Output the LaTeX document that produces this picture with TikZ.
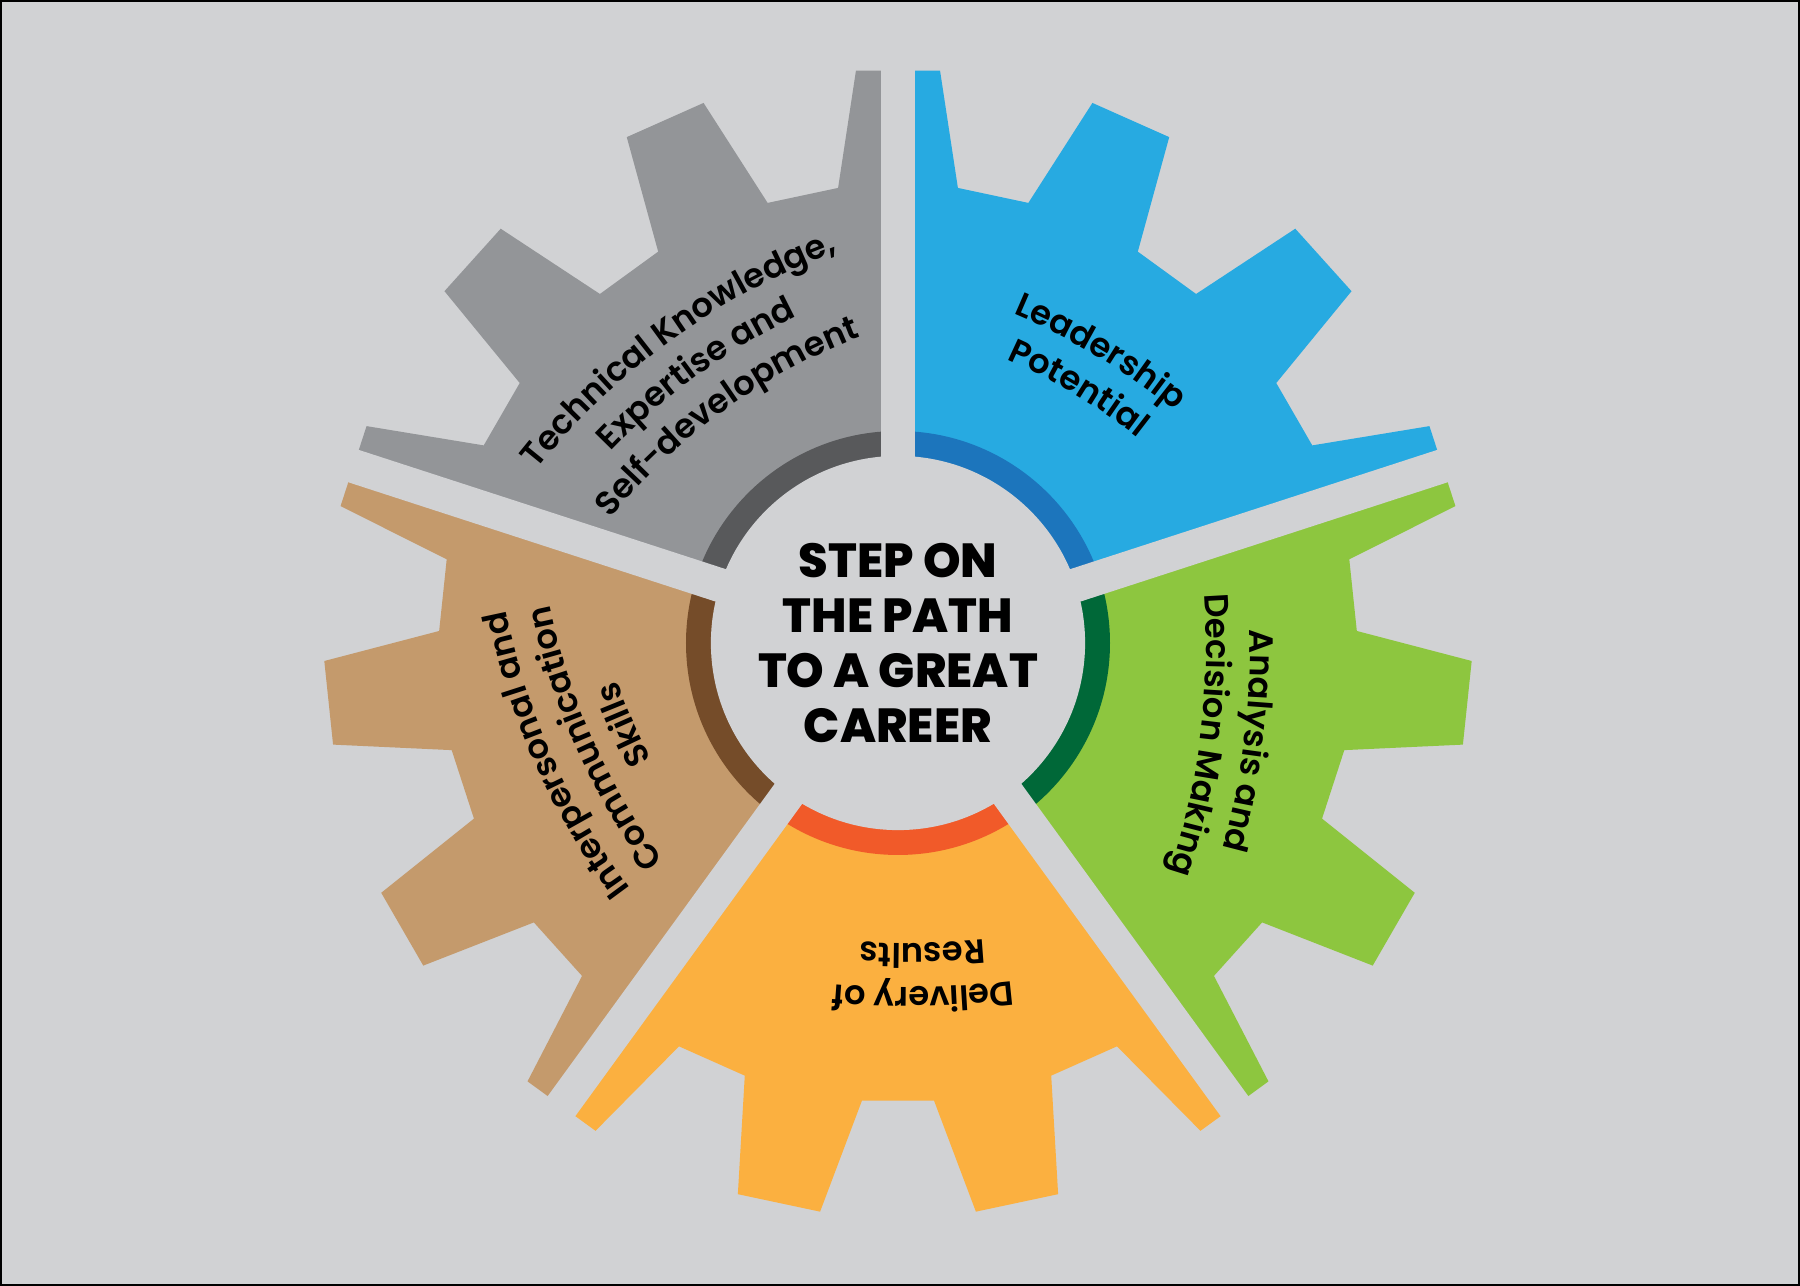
\documentclass[tikz,border=0pt]{standalone}
\usepackage{fontspec}
\setmainfont{Poppins}
\newfontfamily\hubfont{Poppins ExtraBold}
\newfontfamily\lblfont{Poppins SemiBold}
\usetikzlibrary{calc,decorations.text}
\definecolor{cgbg}{RGB}{209,210,212}
\definecolor{cggray}{RGB}{147,149,152}
\definecolor{cggrayd}{RGB}{88,89,91}
\definecolor{cgblue}{RGB}{39,170,225}
\definecolor{cgblued}{RGB}{28,117,188}
\definecolor{cggreen}{RGB}{141,198,63}
\definecolor{cggreend}{RGB}{0,104,56}
\definecolor{cgorange}{RGB}{251,176,64}
\definecolor{cgoranged}{RGB}{241,90,41}
\definecolor{cgbrown}{RGB}{196,154,108}
\definecolor{cgbrownd}{RGB}{117,76,41}
\tikzset{
  hub/.style={
    circle, fill=cgbg, minimum size=3.74cm, inner sep=0pt,
    align=center, font=\hubfont\fontsize{13.6}{15.6}\selectfont
  },
  gapline/.style={draw=cgbg, line width=0.34cm},
  frame/.style={draw=black, line width=1.4pt}
}
% outline of the 15-tooth gear, centre at the origin
\def\cgteeth{(82.5:459) \foreach \c in {90,114,...,426} {
  -- (\c-7.5:459) -- (\c-4.2:574) -- (\c+4.2:574) -- (\c+7.5:459)} -- cycle}
% one line of a label, bent round a centre: centre, radius, upward angle, text
\newcommand{\arcline}[4]{%
  \path[decorate, decoration={text along path, text align=center,
      text={|\lblfont\fontsize{9.6}{11}\selectfont|#4}}]
    ($(#1)+(#3+35:#2)$) arc[start angle=#3+35, end angle=#3-35, radius=#2];
}

\begin{document}
\begin{tikzpicture}[x=0.01cm,y=0.01cm]
  \useasboundingbox (-898,-643) rectangle (902,643);
  \fill[cgbg] (-898,-643) rectangle (902,643);
  \draw[frame] (-898,-643) rectangle (902,643);

  % the five sectors
  \foreach \a/\fc/\dc in {90/cggray/cggrayd, 18/cgblue/cgblued,
      -54/cggreen/cggreend, -126/cgorange/cgoranged, -198/cgbrown/cgbrownd} {
    \begin{scope}
      \clip (0,0) -- (\a:800) -- (\a+36:800) -- (\a+72:800) -- cycle;
      \fill[\fc] \cgteeth;
      \fill[\dc] (0,0) circle[radius=212];
    \end{scope}
  }
  \foreach \g in {90,18,-54,-126,162}
    \draw[gapline] (0,0) -- (\g:640);

  \node[hub] (hub) at (0,0) {STEP ON\\THE PATH\\TO A GREAT\\CAREER};

  % labels
  \coordinate (cT) at ($(126.8:344)-(126:650)$);
  \arcline{cT}{684}{126}{Technical Knowledge,}
  \arcline{cT}{640}{126}{Expertise and}
  \arcline{cT}{596}{126}{Self-development}

  \coordinate (cL) at ($(55:337)-(59:650)$);
  \arcline{cL}{662}{59}{Leadership}
  \arcline{cL}{618}{59}{Potential}

  \coordinate (cA) at ($(-16:348)-(-7:750)$);
  \arcline{cA}{762}{-7}{Analysis and}
  \arcline{cA}{718}{-7}{Decision Making}

  \coordinate (cD) at ($(-85.7:333)-(271:900)$);
  \arcline{cD}{912}{271}{Delivery of}
  \arcline{cD}{868}{271}{Results}

  \coordinate (cI) at ($(197.6:330)-(204:650)$);
  \arcline{cI}{684}{204}{Interpersonal and}
  \arcline{cI}{640}{204}{Communication}
  \arcline{cI}{596}{204}{Skills}
\end{tikzpicture}
\end{document}
